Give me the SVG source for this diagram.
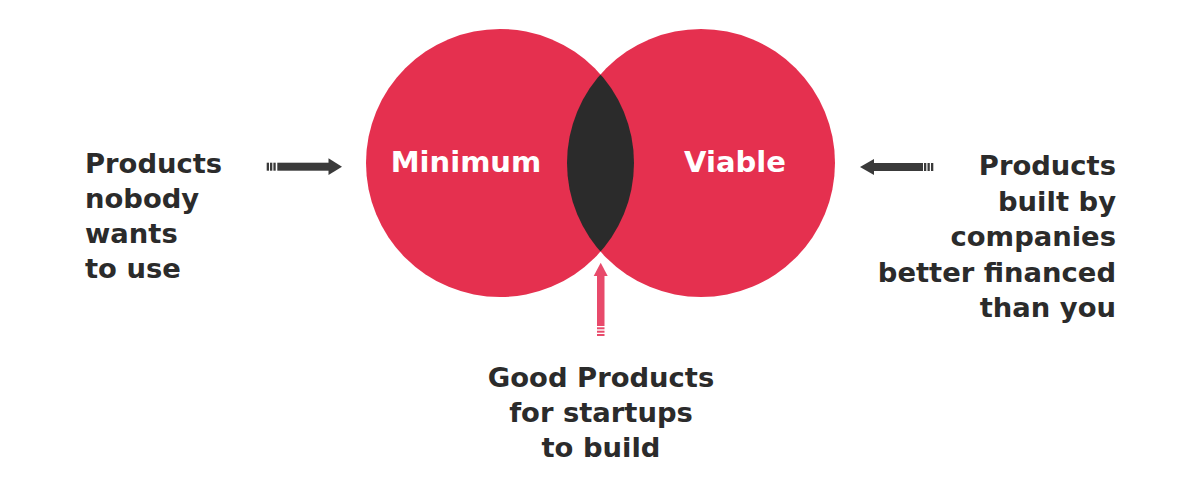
<svg xmlns="http://www.w3.org/2000/svg" width="1200" height="500" viewBox="0 0 1200 500">
<style>
.lbl{font-family:"DejaVu Sans","Liberation Sans",sans-serif;font-weight:bold;font-size:27.4px;fill:#2b2b2b}
.in{font-family:"DejaVu Sans","Liberation Sans",sans-serif;font-weight:bold;font-size:29px;fill:#ffffff}
.dark{fill:#3a3a3a}
.pink{fill:#e84a6b}
</style>
<defs>
<clipPath id="clipL"><circle cx="500" cy="163" r="134"/></clipPath>
</defs>
<rect width="1200" height="500" fill="#ffffff"/>
<g id="circle-minimum">
<circle cx="500" cy="163" r="134" fill="#e5304f"/>
<text class="in" x="466" y="172" text-anchor="middle">Minimum</text>
</g>
<g id="circle-viable">
<circle cx="701" cy="163" r="134" fill="#e5304f"/>
<text class="in" x="735" y="172" text-anchor="middle">Viable</text>
</g>
<g id="overlap">
<circle cx="701" cy="163" r="134" fill="#2b2b2b" clip-path="url(#clipL)"/>
</g>
<g id="label-left">
<text class="lbl" x="85"><tspan x="85" y="173">Products</tspan><tspan x="85" y="208">nobody</tspan><tspan x="85" y="243">wants</tspan><tspan x="85" y="278">to use</tspan></text>
</g>
<g id="label-right">
<text class="lbl" text-anchor="end"><tspan x="1116" y="175">Products</tspan><tspan x="1116" y="210.5">built by</tspan><tspan x="1116" y="246">companies</tspan><tspan x="1116" y="281.5">better financed</tspan><tspan x="1116" y="317">than you</tspan></text>
</g>
<g id="label-bottom">
<text class="lbl" text-anchor="middle"><tspan x="601" y="387">Good Products</tspan><tspan x="601" y="422">for startups</tspan><tspan x="601" y="457">to build</tspan></text>
</g>
<g id="connectors">
<g id="arrow-left" class="dark">
<rect x="266.7" y="162.7" width="2.3" height="8"/>
<rect x="270" y="162.7" width="2.3" height="8"/>
<rect x="273.4" y="162.7" width="2.3" height="8"/>
<rect x="277.3" y="162.7" width="52" height="8"/>
<polygon points="328.5,158.3 342,166.7 328.5,175"/>
</g>
<g id="arrow-right" class="dark">
<polygon points="874,159 860,167 874,175"/>
<rect x="873.5" y="163" width="49.5" height="8"/>
<rect x="924" y="163" width="2.3" height="8"/>
<rect x="927.5" y="163" width="2.3" height="8"/>
<rect x="931" y="163" width="2.3" height="8"/>
</g>
<g id="arrow-bottom" class="pink">
<polygon points="600.7,262.7 607.7,276 593.7,276"/>
<rect x="597" y="275.5" width="7.5" height="50.5"/>
<rect x="597" y="327.3" width="7.5" height="2"/>
<rect x="597" y="330.7" width="7.5" height="2"/>
<rect x="597" y="334" width="7.5" height="2"/>
</g>
</g>
</svg>
